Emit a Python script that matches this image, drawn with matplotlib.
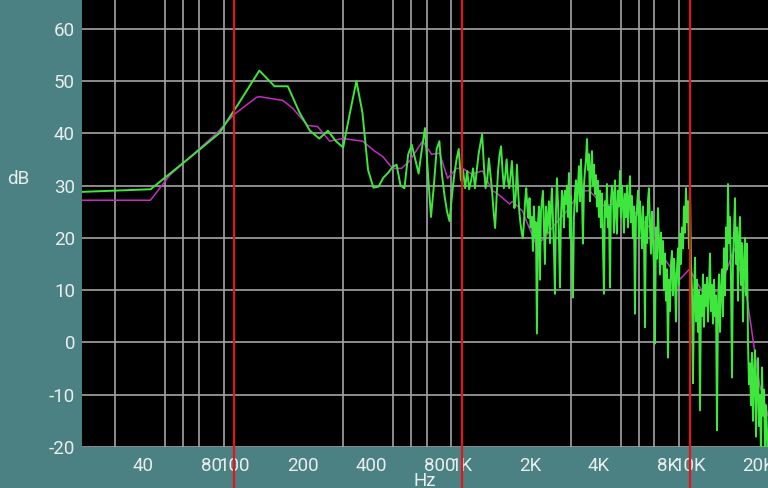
import numpy as np
import matplotlib
matplotlib.use("Agg")
import matplotlib.pyplot as plt

# ---------------- data ----------------
FS = 44100
NFFT = 2048
BIN_HZ = FS / NFFT

# green spectrum, low part: one value per FFT bin (bins 1..93)
green_low_db = [
    28.8, 29.3, 35.5, 40.0, 46.5, 52.0, 49.0, 49.0, 44.0, 40.5,
    39.0, 40.5, 38.5, 37.3, 44.0, 50.0, 44.0, 33.0, 29.6, 29.8,
    31.5, 32.4, 33.5, 34.0, 30.0, 29.5, 36.0, 37.8, 35.0, 32.3,
    37.0, 41.0, 32.0, 24.0, 30.0, 37.0, 38.5, 32.0, 28.0, 25.0,
    23.2, 28.0, 32.0, 35.0, 37.0, 31.0, 33.0, 29.5, 32.8, 29.3,
    31.0, 33.3, 29.5, 33.0, 36.0, 38.0, 39.8, 34.0, 29.5, 31.0,
    35.2, 32.0, 29.0, 25.0, 21.9, 28.0, 33.0, 36.0, 37.5, 33.0,
    29.5, 32.0, 35.0, 31.0, 29.5, 32.0, 34.7, 30.0, 25.7, 28.0,
    34.0, 29.0, 25.0, 22.7, 21.0, 20.0, 23.0, 27.0, 29.5, 26.0,
    23.8, 27.6, 22.0,
]

# green spectrum, high part: values from 2.03 kHz to 22.05 kHz (log spaced)
green_high_start_hz = 2030
green_high_end_hz = 22050
green_high_db = [
    24, 17.5, 26, 20, 23, 1.7, 22.7, 26, 12, 25,
    27, 29, 22, 15, 26, 21, 23.8, 27, 19, 26,
    29.5, 24, 18, 9.3, 25, 31.4, 27, 20, 10.5, 24,
    29, 27.6, 22, 29, 26.5, 30, 24, 32.4, 20, 28,
    15, 8.6, 24, 28.4, 31, 25, 30, 33.7, 27, 35,
    29, 18.9, 30, 32.8, 35, 38.9, 33, 36, 27, 33,
    36.6, 30, 34, 28.4, 32, 26, 30.9, 24, 29, 22,
    28.5, 19, 9.3, 27, 24, 30.3, 22, 26, 10.5, 27,
    30, 28.4, 21, 31, 25, 20.8, 29, 26, 32.8, 24,
    30, 27, 21, 28.4, 24, 30, 22, 27, 31.8, 23,
    28, 20, 26, 5.5, 24, 25.7, 29, 20, 27, 23,
    18, 26, 21, 2.9, 24, 19, 27, 29.5, 22, 17,
    25, 20, 14, -0.2, 22, 16, 25.7, 19, 13, 21,
    15, 19.4, 10, 17, 8, 14, -2.9, 12, 6, 15,
    17.5, 9, 16, 12.4, 4, 14, 18, 11, 20.8, 15,
    22, 18, 26, 21, 29.5, 23, 27, 18, 30, 15,
    10, -7.8, 8, 16.2, 4, 12, 2, 10, -13, 9,
    5, 13, 3, 11, 7, 12.4, 4, 10, 17, 6,
    11, 3.6, 12, 5, 9, -16.8, 7, 13, 2, 10,
    14, 5, 18, 9, 22, 14, 30.3, 19, 24, 12,
    -6.7, 16, 21, 27.6, 15, 22, 8, 20, 24, 11,
    19, 4, 15, 20, 9, 18.9, -0.2, -8, -4, -12,
    -2, -15, -6, -1.5, -18, -8, -3, -16, -10, -22,
    -4.8, -14, -9, -21, -12, -17, -24,
]

# magenta (smoothed) spectrum
magenta_hz = [
    21.5, 43, 52.3, 68.6, 83.9, 100, 125.8, 129.7, 163.6, 180.9,
    210.5, 232.8, 262.9, 299.8, 366.9, 414.1, 448.8, 496.7, 543.9, 589.6,
    672.3, 736.5, 798.4, 865.7, 948, 1007, 1103, 1232, 1363, 1420,
    1619, 1669, 1846, 2126, 2305, 2551, 2968, 3282, 3632, 4226,
    4918, 5721, 6658, 7745, 9012, 9970, 11600, 13500, 15710, 17910,
    20220, 22050,
]
magenta_db = [
    27.2, 27.2, 32.0, 36.6, 40.0, 43.6, 46.9, 47.0, 46.3, 44.8,
    41.5, 41.3, 38.5, 39.0, 38.5, 36.6, 35.6, 33.3, 33.3, 34.7,
    38.5, 36.0, 36.2, 31.4, 33.3, 33.3, 32.2, 32.8, 29.0, 28.6,
    26.5, 27.0, 25.1, 18.5, 20.0, 22.5, 25.7, 29.0, 29.0, 26.0,
    27.0, 25.0, 22.0, 16.0, 12.0, 14.0, 9.0, 10.0, 18.0, 8.0,
    -8.0, -14.0,
]

marker_hz = [100, 1000, 10000]

tick_hz = [40, 80, 100, 200, 400, 800, 1000, 2000, 4000, 8000, 10000, 20000]
tick_labels = ['40', '80', '100', '200', '400', '800', '1K', '2K', '4K', '8K', '10K', '20K']
grid_hz = ([d * 10 for d in range(3, 10)] + [d * 100 for d in range(1, 10)] +
           [d * 1000 for d in range(1, 10)] + [10000, 20000])
db_ticks = [-20, -10, 0, 10, 20, 30, 40, 50, 60]

# ---------------- figure ----------------
TEAL = '#4b8183'
TXT = '#e8eeee'
FS_TXT = 13.5
plt.rcParams['font.family'] = ['Roboto', 'DejaVu Sans']

fig = plt.figure(figsize=(7.68, 4.88), dpi=100, facecolor=TEAL)
ax = fig.add_axes([82 / 768, 41 / 488, 1 - 82 / 768, 447 / 488])
ax.set_facecolor('black')
ax.set_xscale('log')
ax.set_xlim(BIN_HZ, 22050)
ax.set_ylim(-20, 65.5)

for s in ax.spines.values():
    s.set_visible(False)

# grid
ax.set_xticks(grid_hz, minor=True)
ax.set_xticks(tick_hz)
ax.set_xticklabels(tick_labels)
ax.set_yticks(db_ticks)
ax.set_yticklabels([str(v) for v in db_ticks])
ax.grid(True, which='minor', axis='x', color='#a4a4a4', lw=1.2, zorder=1)
ax.grid(True, which='major', axis='y', color='#a4a4a4', lw=1.2, zorder=1)
ax.grid(False, which='major', axis='x')
ax.set_axisbelow(True)
ax.tick_params(axis='both', which='both', length=0, colors=TXT, labelsize=FS_TXT)
ax.tick_params(axis='x', pad=7)
ax.tick_params(axis='y', pad=5)

# data series
low_hz = BIN_HZ * np.arange(1, len(green_low_db) + 1)
high_hz = np.geomspace(green_high_start_hz, green_high_end_hz, len(green_high_db))
green_hz = np.concatenate([low_hz, high_hz])
green_db = np.concatenate([green_low_db, green_high_db])

ax.plot(magenta_hz, magenta_db, color='#c22ec2', lw=1.1, zorder=3)
ax.plot(green_hz, green_db, color='#3ee63e', lw=1.4, zorder=4)

for f in marker_hz:
    ax.axvline(f, ymin=-0.12, ymax=1.0, color='#e3161b', lw=1.6, zorder=6, clip_on=False)

fig.text(18 / 768, 1 - 179 / 488, 'dB', color=TXT, fontsize=FS_TXT, ha='center', va='center')
fig.text(425 / 768, 1 - 481 / 488, 'Hz', color=TXT, fontsize=FS_TXT, ha='center', va='center')

fig.savefig('out.png', dpi=100, facecolor=TEAL)
